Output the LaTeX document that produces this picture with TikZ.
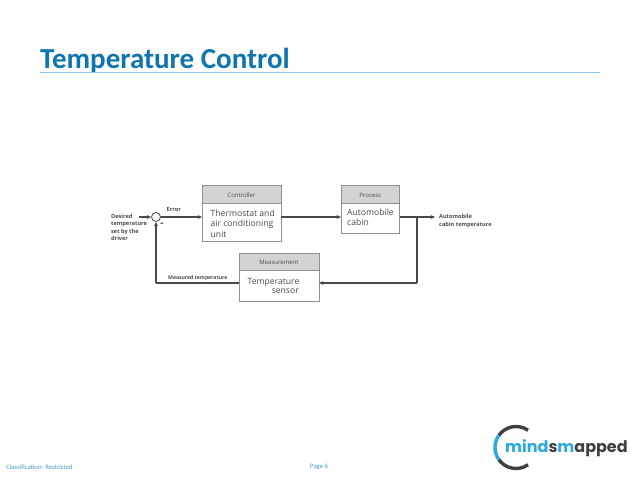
\documentclass[tikz,border=0pt]{standalone}
\usepackage{fontspec}
\setmainfont{Carlito}
\newfontfamily\diag{Open Sans}
\newfontfamily\logofont{Poppins}
\usetikzlibrary{arrows.meta,positioning}
\definecolor{titleblue}{HTML}{0F75AE}
\definecolor{rulecol}{HTML}{8CC6E3}
\definecolor{boxline}{HTML}{8E9092}
\definecolor{headfill}{HTML}{D2D3D5}
\definecolor{wire}{HTML}{4A4A4C}
\definecolor{logoblue}{HTML}{29A9E0}
\definecolor{logodark}{HTML}{3E4144}
\definecolor{foot}{HTML}{4A9CC9}
\tikzset{
  x=1pt,y=-1pt,
  box/.style={draw=boxline,line width=1pt,fill=white,minimum width=#1,inner sep=0pt,outer sep=0pt},
  head/.style={draw=boxline,line width=1pt,fill=headfill,inner sep=0pt,outer sep=0pt,font=\diag\fontsize{6}{6}\selectfont,text=wire},
  bodytxt/.style={font=\diag\fontsize{8.6}{10.2}\selectfont,text=wire,align=left,anchor=north west,inner sep=0pt},
  small/.style={font=\diag\bfseries\fontsize{5.6}{7.3}\selectfont,text=black!70,align=left,inner sep=0pt},
  wireline/.style={draw=wire,line width=1.4pt},
  arrow/.style={wireline,-{Stealth[length=4.5pt,width=4pt]}},
  footer/.style={font=\fontsize{6.7}{7}\selectfont,text=foot,inner sep=0pt},
  ringarc/.style={line width=3.4pt}
}
\begin{document}
\begin{tikzpicture}
\useasboundingbox (0,0) rectangle (638,478);
\fill[white] (0,0) rectangle (638,478);
% title
\node[anchor=base west,inner sep=0pt,font=\bfseries\fontsize{29}{30}\selectfont,text=titleblue] (title) at (40,68.5) {Temperature Control};
\coordinate (ruleL) at (40,72.5);
\coordinate (ruleR) at (600,72.5);
\draw[rulecol,line width=.7pt] (ruleL) -- (ruleR);
% controller
\node[box=79pt,minimum height=56pt,anchor=north west] (ctrl) at (202,186) {};
\node[head,minimum width=79pt,minimum height=18pt,anchor=north west] (ctrlh) at (202,186) {Controller};
\node[bodytxt] (ctrlt) at (210.5,210) {Thermostat and\\air conditioning\\unit};
% process
\node[box=58.5pt,minimum height=48pt,anchor=north west] (proc) at (341,186) {};
\node[head,minimum width=58.5pt,minimum height=18pt,anchor=north west] (proch) at (341,186) {Process};
\node[bodytxt] (proct) at (347,209) {Automobile\\cabin};
% measurement
\node[box=80pt,minimum height=48pt,anchor=north west] (meas) at (239,254) {};
\node[head,minimum width=80pt,minimum height=17pt,anchor=north west] (meash) at (239,254) {Measurement};
\node[bodytxt] (meast) at (247.5,278.5) {Temperature};
\node[bodytxt,anchor=north east] (meast2) at (299,288.5) {sensor};
% summing junction
\node[circle,draw=wire,line width=.8pt,minimum size=9pt,inner sep=0pt] (sum) at (156,217) {};
% labels
\node[small,anchor=north west] (desired) at (111,214) {Desired\\temperature\\set by the\\driver};
\node[small,anchor=base west] (err) at (166.5,212) {Error};
\node[small,anchor=base west,font=\diag\bfseries\fontsize{5.1}{6}\selectfont] (mt) at (168,280) {Measured temperature};
\node[small,anchor=north west] (out) at (439,214.5) {Automobile\\cabin temperature};
\node[small,anchor=center,font=\diag\bfseries\fontsize{10}{10}\selectfont] (minus) at (162,225) {-};
% connectors
\coordinate (inS) at (139,217);
\coordinate (outE) at (435,217);
\coordinate (fbT) at (417,217);
\coordinate (fbB) at (417,283);
\coordinate (fbL) at (156,283);
\draw[arrow] (inS) -- (sum.west);
\draw[arrow] (sum.east) -- (ctrl.west |- sum.east);
\draw[arrow] (ctrl.east |- outE) -- (proc.west |- outE);
\draw[arrow] (proc.east |- outE) -- (outE);
\draw[wireline] (fbT) -- (fbB);
\draw[arrow] (fbB) -- (meas.east |- fbB);
\draw[wireline] (meas.west |- fbB) -- (fbL);
\draw[arrow] (fbL) -- (sum.south);
% logo
\begin{scope}[shift={(516,447.5)},y=1pt]
\draw[logodark,ringarc] (145:21) arc[start angle=145,end angle=55,radius=21];
\draw[logodark,ringarc] (215:21) arc[start angle=215,end angle=305,radius=21];
\draw[logoblue,ringarc] (145:21) arc[start angle=145,end angle=215,radius=21];
\end{scope}
\node[anchor=base west,inner sep=0pt,font=\logofont\bfseries\fontsize{16}{16}\selectfont] (logo) at (505,453)
  {\textcolor{logoblue}{mind}\textcolor{logodark}{s}\textcolor{logoblue}{m}\textcolor{logodark}{apped}};
% footer
\node[footer,anchor=base west] (cl) at (6,470) {Classification: Restricted};
\node[footer,anchor=base west] (pg) at (310,469) {Page 6};
\end{tikzpicture}
\end{document}
